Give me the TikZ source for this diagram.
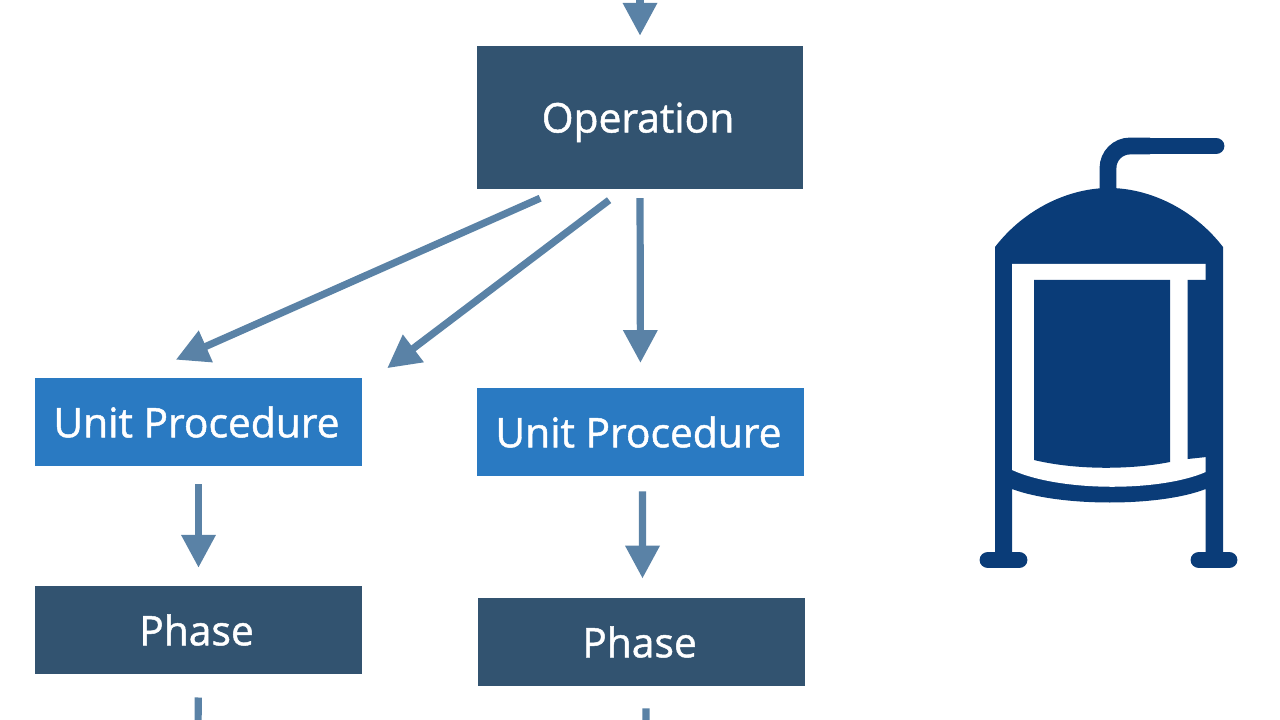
\documentclass[tikz,border=0pt]{standalone}
\usepackage{fontspec}
\setmainfont{Open Sans}[FakeBold=1.2]
\usepackage{tikz}
\usetikzlibrary{arrows.meta}
\definecolor{darkBox}{HTML}{325370}
\definecolor{blueBox}{HTML}{2A7AC2}
\definecolor{arrowBlue}{HTML}{5A82A6}
\definecolor{vesselBlue}{HTML}{0A3C78}
\tikzset{
	block/.style    = {rectangle, text=white, font=\fontsize{29}{32}\selectfont,
		minimum width = 8.16cm,
		execute at end node={\kern 2.8pt}},
	opBlock/.style    = {block, fill=darkBox, minimum height = 3.575cm, text depth=0pt},
	unitBlock/.style  = {block, fill=blueBox, minimum height = 2.2cm},
	phaseBlock/.style = {block, fill=darkBox, minimum height = 2.2cm},
	flow/.style       = {->, draw=arrowBlue, line width=.18cm},
	stub/.style       = {draw=arrowBlue, line width=.18cm},
	vessel/.style     = {fill=vesselBlue, draw=none},
	pipe/.style       = {draw=vesselBlue, line width=.42cm, line cap=round},
}

\begin{document}
\begin{tikzpicture}[ x=0.025cm,                        %<--one unit is one pixel
                       y=-0.025cm,
                       >/.tip={Triangle[length=.82cm,width=.82cm]}
                       ]
    \useasboundingbox (0,0) rectangle (1280,720);

    %-- Blocks creation --%
    \draw
      node[shape=coordinate][](inputTop) at (640,-12){}
      node(operation) at (640,117.5) [opBlock] {Operation}

      % LEFT BRANCH %
      node(unitLeft) at (198.5,422) [unitBlock] {Unit Procedure}
      node(phaseLeft) at (198.5,630) [phaseBlock] {Phase}
      node[shape=coordinate][](outputLeft) at (198,732){}

      % RIGHT BRANCH %
      node(unitRight) at (640.5,432) [unitBlock] {Unit Procedure}
      node(phaseRight) at (641.5,642) [phaseBlock] {Phase}
      node[shape=coordinate][](outputRight) at (646,732){}
    ;

    %-- Block linking --%
    \draw[flow, shorten >=.25cm] (inputTop) -- (operation.north);

    % OPERATION %
    \draw[flow, shorten <=.55cm, shorten >=1.11cm] (operation.222.5) -- (unitLeft.145.3);
    \draw[flow, shorten <=.45cm, shorten >=.79cm] (operation.257) -- (unitLeft.12.4);
    \draw[flow, shorten <=.22cm, shorten >=.62cm] (operation.south) -- (unitRight.north);

    % LEFT BRANCH %
    \draw[flow, shorten <=.45cm, shorten >=.45cm] (unitLeft.south) -- (phaseLeft.north);
    \draw[stub, shorten <=.58cm] (phaseLeft.south) -- (outputLeft);

    % RIGHT BRANCH %
    \draw[flow, shorten <=.38cm, shorten >=.48cm] ([xshift=.05cm]unitRight.south) -- ([xshift=.025cm]phaseRight.north);
    \draw[stub, shorten <=.55cm] ([xshift=.11cm]phaseRight.south) -- (outputRight);

    %-- Vessel --%
    % SHELL %
    \fill[vessel] (995,560) -- (995,247)
      .. controls (1025,208) and (1070,188) .. (1109,188)
      .. controls (1148,188) and (1193,208) .. (1223,247)
      -- (1223,560) -- (1205.7,560) -- (1205.7,489)
      .. controls (1160,507) and (1060,507) .. (1012,489)
      -- (1012,560) -- cycle;
    % PIPE AND FEET %
    \draw[pipe, rounded corners=.55cm, line cap=butt] (1108,195) -- (1108,146) -- (1150,146);
    \draw[pipe] (1140,146) -- (1216,146);
    \draw[pipe] (988,560) -- (1019,560);
    \draw[pipe] (1199,560) -- (1229,560);
    % WINDOW %
    \fill[white] (1012,264) -- (1205.7,264) -- (1205.7,472)
      .. controls (1160,492) and (1060,492) .. (1012,470) -- cycle;
    % TANK %
    \fill[vessel] (1034,280) -- (1170,280) -- (1170,462)
      .. controls (1130,470) and (1075,470) .. (1034,460) -- cycle;
    \fill[vessel] (1187.7,280) -- (1206.5,280) -- (1206.5,457) -- (1187.7,459) -- cycle;

  \end{tikzpicture}
\end{document}
